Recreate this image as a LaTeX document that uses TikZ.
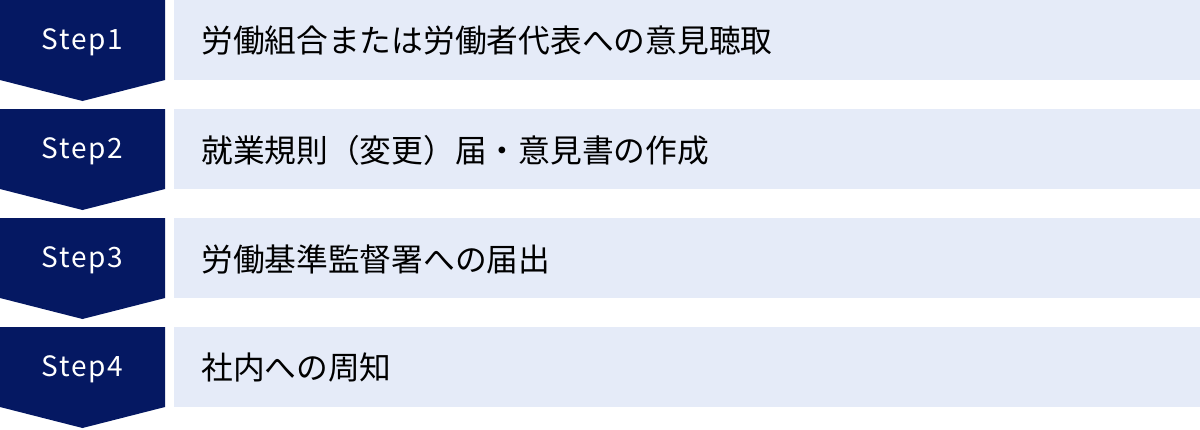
\documentclass[tikz,border=0pt]{standalone}
\usepackage{fontspec}
\setmainfont{Noto Sans CJK JP}
\newfontfamily\jpfont{Noto Sans CJK JP}
\newfontfamily\stepfont[LetterSpace=6]{Noto Sans CJK JP}
\definecolor{navy}{RGB}{5,24,98}
\definecolor{paleblue}{RGB}{229,235,248}
\tikzset{
  stepshape/.style={fill=navy,draw=none},
  bar/.style={fill=paleblue,draw=none},
  steplabel/.style={text=white,font=\stepfont\fontsize{21}{21}\selectfont,inner sep=0pt},
  bartext/.style={text=black,font=\jpfont\fontsize{23.8}{24}\selectfont,inner sep=0pt,anchor=west}
}
\begin{document}
\begin{tikzpicture}[x=0.75pt,y=-0.75pt]
\useasboundingbox (0,0) rectangle (1200,429);
\foreach \i/\txt in {0/労働組合または労働者代表への意見聴取,1/就業規則（変更）届・意見書の作成,2/労働基準監督署への届出,3/社内への周知}{
  \pgfmathsetmacro{\yy}{109*\i}
  \fill[bar] (174,\yy) rectangle (1200,\yy+80);
  \fill[stepshape] (0,\yy) -- (165,\yy) -- (165,\yy+80) -- (82.5,\yy+101) -- (0,\yy+80) -- cycle;
  \pgfmathtruncatemacro{\n}{\i+1}
  \node[steplabel] (s\n) at (82.5,\yy+42.5) {Step\n};
  \node[bartext] (t\n) at (201,\yy+41) {\txt};
}
\end{tikzpicture}
\end{document}
